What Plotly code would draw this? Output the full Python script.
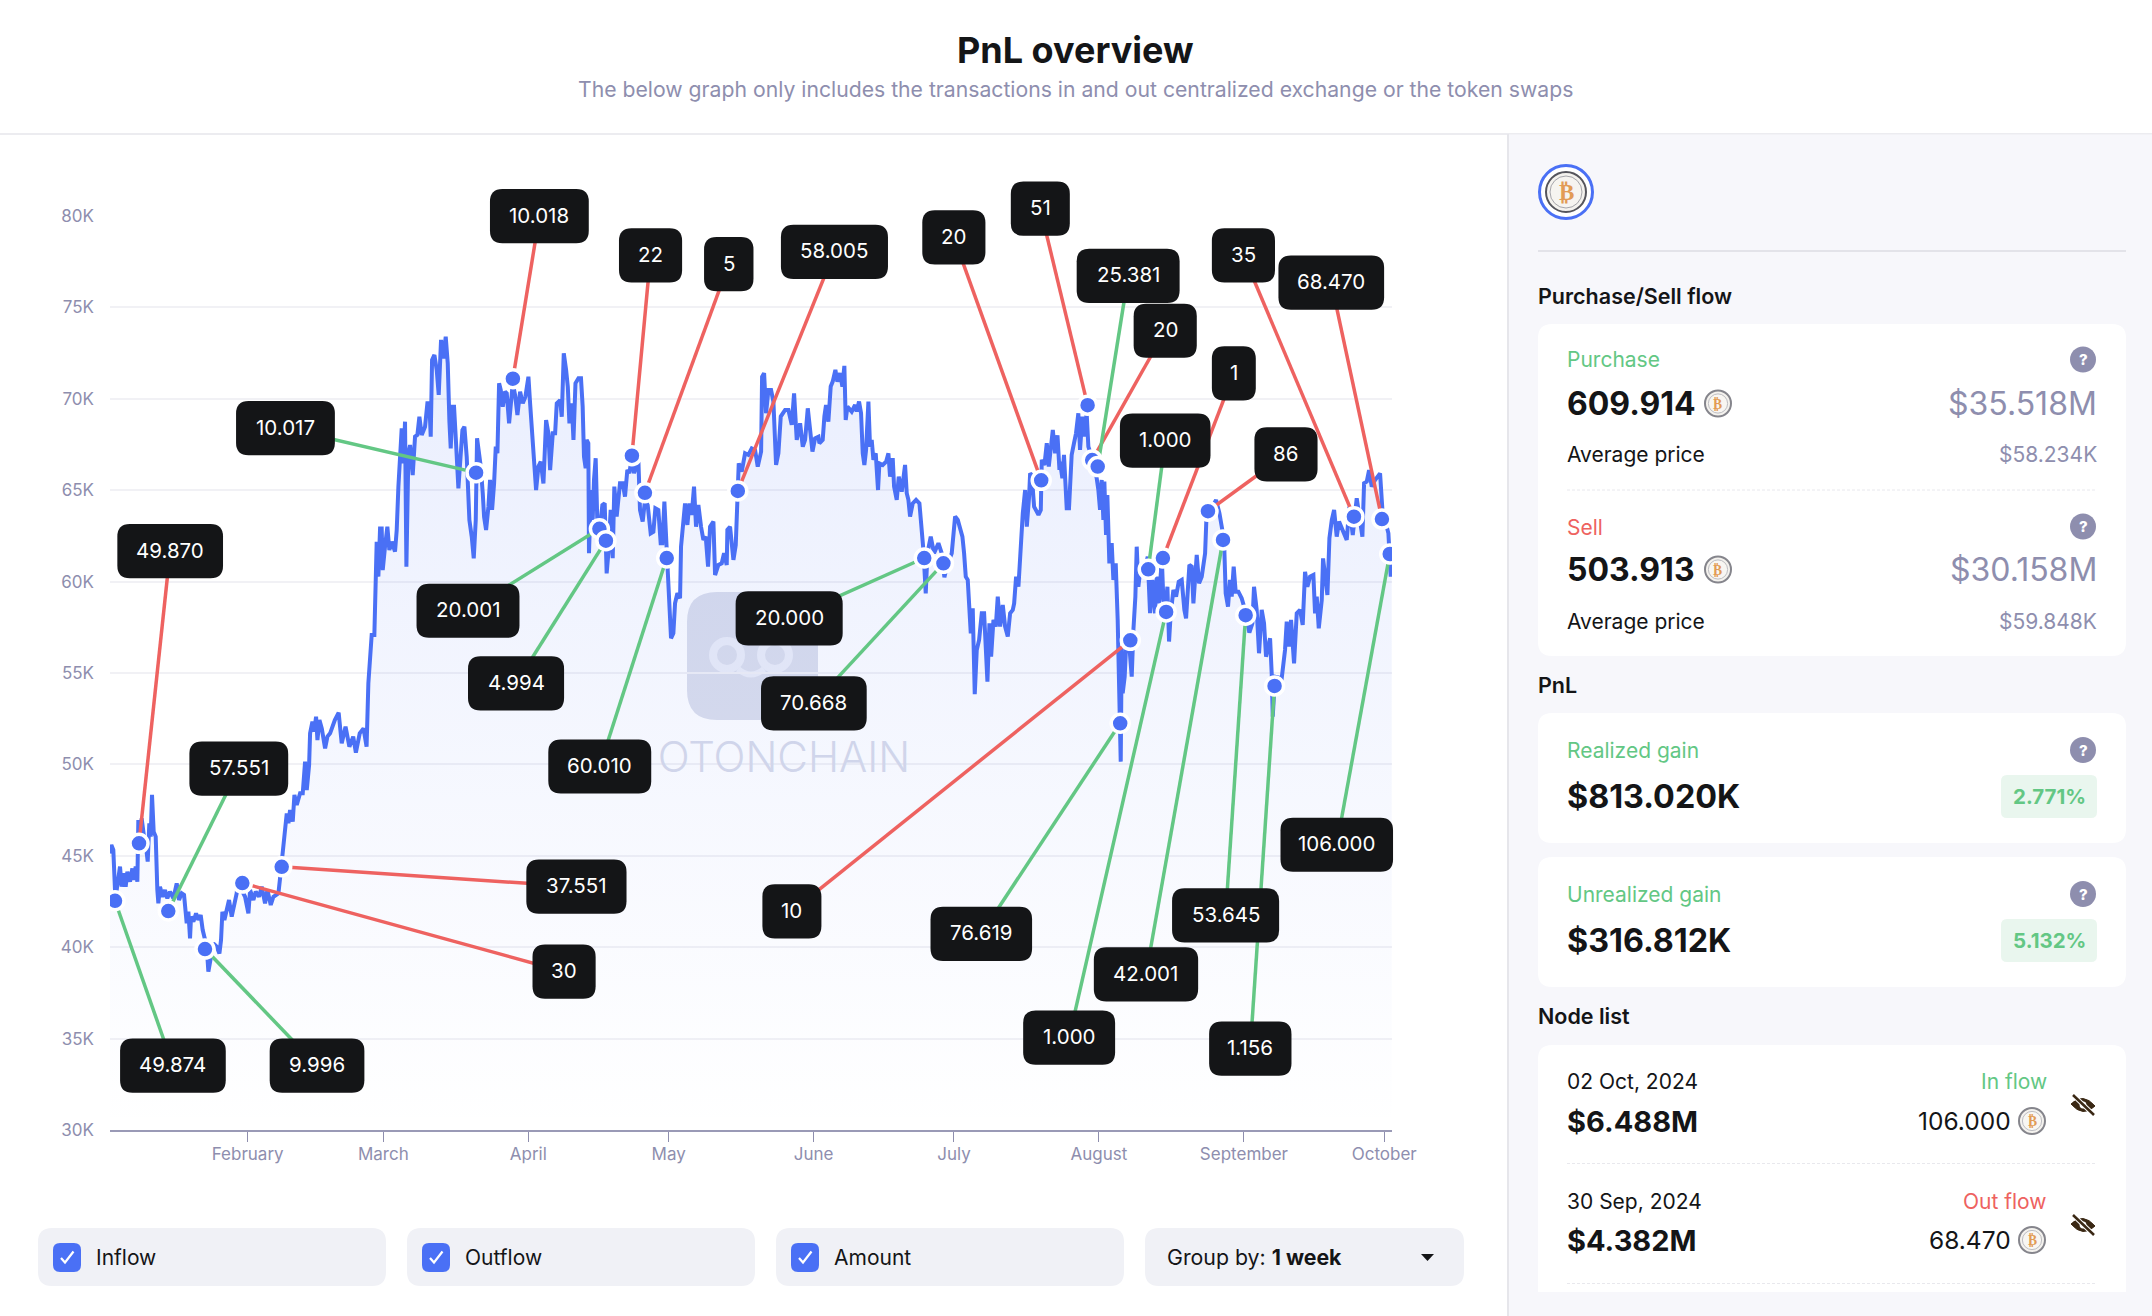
import pandas as pd
import plotly.graph_objects as go

# ---------- data ----------
PRICE_DAYS = [
 1.56,1.85,2.27,2.63,2.99,3.70,4.06,4.41,4.91,5.27,5.84,6.34,6.69,7.05,7.41,7.62,7.98,8.33,8.83,9.26,
 9.62,9.97,10.26,10.54,10.90,11.33,11.68,11.90,12.25,12.83,13.32,13.82,14.39,15.11,15.82,16.32,16.89,17.39,17.96,18.32,
 18.67,18.89,19.39,19.96,20.45,20.95,21.38,21.88,22.24,22.59,23.09,23.66,24.38,24.95,25.30,25.59,26.02,26.52,27.01,27.58,
 28.08,28.65,29.01,29.72,30.44,31.15,31.51,32.22,32.72,33.43,34.00,34.71,35.21,35.93,36.50,37.57,37.92,38.28,38.64,38.99,
 39.35,39.71,40.06,40.63,40.99,41.49,42.20,42.77,43.27,43.63,44.13,44.34,44.84,45.20,45.62,45.91,46.34,46.84,47.55,48.05,
 48.62,49.63,50.45,51.10,51.92,52.74,53.56,54.13,54.95,55.77,56.42,56.80,57.16,57.51,58.08,58.37,58.58,58.94,59.30,59.65,
 59.87,60.36,60.86,61.29,61.79,62.50,62.86,63.22,63.72,63.93,64.29,64.64,64.93,65.36,65.71,66.28,66.78,67.28,67.71,68.21,
 68.92,69.42,69.85,70.13,70.42,70.92,71.42,71.84,72.34,72.84,73.34,73.77,74.13,74.41,74.77,75.12,75.55,76.05,76.41,76.91,
 77.33,77.83,78.40,78.90,79.33,79.76,80.04,80.47,80.83,81.26,81.54,81.97,82.47,82.82,83.25,83.68,84.04,84.39,84.75,85.11,
 85.53,86.03,86.39,86.89,87.67,88.17,88.67,89.24,89.81,90.38,91.02,91.38,91.74,92.24,92.66,93.16,93.66,94.23,94.80,95.30,
 95.66,96.23,96.73,97.08,97.80,98.15,98.58,99.08,99.44,99.79,100.29,100.65,101.08,101.72,102.26,102.62,102.90,103.26,103.47,103.83,
 103.97,104.40,104.76,105.04,105.40,105.76,106.33,106.83,107.33,107.75,108.11,108.61,109.04,109.39,109.89,110.60,111.18,111.67,112.17,112.60,
 113.10,113.60,114.53,114.88,115.45,115.95,116.52,117.16,117.74,118.16,118.80,119.30,119.66,120.09,120.59,120.94,121.51,122.01,122.37,122.87,
 123.44,123.65,124.15,124.51,125.01,125.43,125.93,126.43,126.86,127.36,127.93,128.43,128.93,129.43,129.86,130.57,130.93,131.64,132.35,132.85,
 133.42,133.56,134.13,134.85,135.35,135.70,135.99,136.63,137.34,138.05,138.77,139.48,140.05,140.77,140.98,141.41,141.83,142.33,142.90,143.40,
 143.97,144.47,144.97,145.90,146.61,147.32,147.82,148.39,149.11,149.68,150.18,150.75,151.25,151.75,152.31,153.03,153.23,153.94,154.30,154.65,
 155.15,155.65,156.08,156.65,157.08,157.65,158.15,158.57,158.86,159.22,160.14,160.86,161.21,161.71,162.14,162.50,162.85,163.21,163.71,164.06,
 164.42,164.78,165.28,165.77,166.06,166.77,167.49,167.99,168.34,168.91,169.20,169.77,170.20,170.84,171.55,171.91,172.26,172.62,173.19,173.90,
 174.62,175.11,175.47,175.97,176.33,177.04,177.75,178.68,179.39,179.96,180.46,181.53,182.25,182.82,183.32,183.81,184.17,184.53,184.95,185.31,
 185.60,186.02,186.45,186.88,187.38,187.95,188.45,189.16,189.59,189.95,190.45,190.95,191.37,191.87,192.44,192.94,193.51,194.01,194.58,194.87,
 195.29,195.79,196.29,196.72,197.22,197.58,198.07,198.29,198.64,199.14,200.07,200.57,200.78,201.35,201.85,202.28,203.14,203.64,204.14,204.56,
 204.68,205.18,205.53,205.89,206.11,206.60,206.82,207.17,207.67,208.10,208.60,208.96,209.46,209.88,210.38,210.74,212.17,212.88,213.24,213.59,
 213.95,214.16,214.52,214.80,215.23,215.73,216.09,216.59,217.01,217.30,217.66,217.87,218.08,218.51,218.80,219.51,220.01,220.37,220.79,221.08,
 221.43,221.93,222.86,223.43,223.93,224.43,224.99,225.36,225.86,226.43,226.78,227.21,227.64,227.99,228.35,228.92,229.49,230.06,230.70,231.27,
 231.63,232.34,232.84,233.20,233.91,234.41,234.98,235.70,236.05,236.62,238.05,238.76,239.26,239.62,239.75,240.10,240.60,241.03,241.39,241.81,
 242.24,242.81,243.52,244.24,245.16,245.81,246.16,246.73,247.23,247.80,248.30,248.73,249.59,249.94,250.16,250.65,252.08,252.79,253.15,253.65,
 254.08,254.72,255.29,256.00,256.57,257.07,257.57,258.14,258.85,259.21,259.57,260.00,260.64,260.92,261.85,262.28,262.78,263.28,263.84,264.34,
 264.91,265.98,266.55,267.27,268.12,268.69,269.33,269.69,270.26,270.76,271.33,272.04,273.11,273.61,274.18,274.89,275.39,275.60,
]
PRICE_K = [
 45.13,45.59,45.32,43.13,43.13,44.41,43.31,44.04,43.31,44.13,43.58,44.31,43.68,44.41,43.58,46.96,46.05,47.05,46.05,45.50,
 44.68,46.78,46.05,48.33,46.32,46.05,43.13,42.40,43.31,42.76,43.13,42.67,43.04,42.67,43.49,42.58,42.95,42.86,41.31,41.94,
 40.48,41.67,41.40,41.85,41.49,41.76,40.94,40.48,40.03,38.66,39.39,40.21,40.03,39.66,40.39,41.94,41.49,42.03,42.58,41.67,
 42.40,42.95,43.95,43.13,42.76,41.85,43.13,42.58,43.04,42.76,43.31,42.40,43.13,42.31,42.76,42.95,43.77,44.77,45.50,46.23,
 47.32,46.78,47.50,46.87,48.33,47.78,48.42,48.42,50.15,48.60,49.97,51.70,52.34,51.79,52.61,51.33,52.43,51.97,50.88,51.52,
 51.70,52.43,52.83,51.15,52.06,50.97,51.52,50.64,51.70,51.97,50.97,54.43,56.26,57.08,57.08,59.36,62.18,60.27,62.91,62.91,
 60.63,61.91,63.00,61.73,62.18,61.64,62.82,65.19,67.02,68.38,66.47,68.75,60.82,67.02,67.47,65.83,67.93,68.02,69.02,68.02,
 68.47,69.75,69.75,67.93,72.12,72.40,71.57,70.21,73.22,72.21,73.40,71.94,68.75,67.29,69.57,69.57,67.56,65.10,66.47,68.29,
 68.47,66.83,63.37,62.46,61.27,63.37,67.84,67.02,66.29,64.83,63.55,62.82,64.10,65.56,63.92,65.37,67.38,67.02,70.85,70.48,
 69.57,70.39,70.30,68.66,70.85,70.21,69.11,70.39,69.75,70.12,71.21,69.75,68.47,67.02,65.01,66.29,66.56,65.37,68.84,68.11,
 66.10,68.11,68.11,69.75,69.93,69.02,72.49,71.57,70.66,68.66,69.75,67.75,70.85,71.12,71.12,69.57,66.84,66.20,67.75,67.57,
 61.55,65.01,63.37,65.56,66.75,63.19,63.00,64.19,64.28,60.45,61.55,63.92,61.28,65.20,63.56,65.38,65.38,64.65,66.11,65.93,
 66.75,65.93,66.66,63.92,63.28,64.47,64.19,62.64,62.73,64.01,63.92,62.10,62.10,64.38,61.91,59.63,56.90,57.17,58.81,59.36,
 59.09,61.91,63.19,64.28,63.10,64.28,63.65,65.20,63.00,64.19,63.00,62.28,62.46,60.82,63.00,63.28,60.36,60.91,61.00,61.55,
 60.91,62.83,63.00,61.19,62.00,64.83,66.47,66.02,67.02,66.93,67.29,67.20,66.29,67.11,71.21,71.40,69.21,70.48,70.48,69.85,
 66.38,67.02,69.03,69.39,69.39,68.57,70.30,67.75,68.66,67.38,67.75,69.48,68.11,67.11,67.84,67.93,67.57,67.75,69.03,69.66,
 68.75,70.67,70.94,71.58,70.94,71.40,70.67,71.80,68.84,69.57,69.30,69.66,69.30,69.85,69.21,67.02,66.38,67.20,69.85,67.38,
 67.75,66.66,67.02,65.01,66.47,66.38,66.56,67.02,65.74,66.75,65.20,64.47,65.74,64.92,66.38,64.83,64.47,63.56,64.28,64.47,
 64.28,63.01,61.73,59.36,61.55,62.46,61.55,62.10,61.55,60.24,60.82,61.55,63.56,63.37,62.83,62.46,61.55,60.27,60.09,58.63,
 57.17,58.54,53.84,56.26,56.81,58.27,58.27,54.53,57.72,55.90,57.90,57.54,59.18,57.54,58.72,57.54,57.00,58.27,58.45,58.81,
 60.27,59.73,62.46,63.74,65.01,63.01,64.65,65.92,65.83,64.10,63.65,63.92,66.66,66.38,67.57,66.29,68.30,67.02,68.00,66.11,
 66.56,65.65,66.93,65.56,64.01,64.01,65.74,66.93,67.57,68.11,69.21,67.20,69.02,67.93,69.21,67.38,66.29,65.01,63.92,65.56,
 63.37,65.47,62.55,64.74,61.00,62.10,60.09,61.00,57.90,52.98,50.15,56.44,53.89,54.80,56.44,56.44,54.80,57.35,59.18,61.91,
 59.72,60.82,60.64,61.37,58.27,60.09,58.27,60.27,58.81,61.37,58.99,58.45,59.72,56.72,58.27,59.54,59.18,59.99,60.09,58.45,
 57.99,60.91,60.82,58.81,61.46,59.91,60.27,61.55,63.92,63.83,64.47,63.74,63.00,62.28,62.28,59.36,58.63,60.09,59.18,60.82,
 59.45,59.45,59.09,58.45,57.21,57.72,59.72,58.45,56.08,58.45,57.72,55.89,56.90,54.98,52.61,54.80,54.71,56.26,57.81,56.44,
 57.90,55.53,58.26,58.45,57.63,60.54,59.72,60.27,60.36,58.26,59.18,57.44,58.99,61.27,59.27,62.37,63.37,63.92,62.46,63.28,
 62.91,62.28,64.10,62.55,64.56,63.37,62.46,65.38,65.47,66.10,65.19,65.56,65.92,63.92,63.37,62.64,60.27,61.00,
]

NODE_LABELS = ["49.874","49.870","57.551","9.996","30","37.551","10.017","10.018","20.001","4.994","22","5",
               "60.010","58.005","20.000","70.668","20","51","20","25.381","76.619","10","1.000","1","1.000",
               "86","42.001","53.645","1.156","35","68.470","106.000"]
NODE_FLOW = ["in","out","in","in","out","out","in","out","in","in","out","out",
             "in","out","in","in","out","out","out","in","in","out","in","out","in",
             "out","in","in","in","out","out","in"]
NODE_DAYS = [2.63,7.76,14.02,21.87,29.85,38.27,79.83,87.70,106.20,107.59,113.15,115.93,
             120.59,135.79,175.65,179.75,200.66,210.58,211.56,212.74,217.55,219.71,223.54,226.68,227.37,
             236.31,239.53,244.37,250.55,267.52,273.51,275.18]
NODE_PRICE_K = [42.54,45.68,41.98,39.90,43.51,44.40,65.96,71.10,62.89,62.24,66.89,64.86,
                61.29,64.96,61.29,61.00,65.54,69.65,66.65,66.29,52.25,56.79,60.67,61.29,58.34,
                63.85,62.28,58.16,54.29,63.55,63.42,61.51]

Y_TICKS = [30000,35000,40000,45000,50000,55000,60000,65000,70000,75000,80000]
Y_TEXT = ["30K","35K","40K","45K","50K","55K","60K","65K","70K","75K","80K"]
MONTH_TICKS = ["2024-02-01","2024-03-01","2024-04-01","2024-05-01","2024-06-01","2024-07-01","2024-08-01","2024-09-01","2024-10-01"]
MONTH_TEXT = ["February","March","April","May","June","July","August","September","October"]

# ---------- layout only ----------
W, H = 2152, 1316
PL, PR, PT, PB = 110, 1392, 216, 1130     # plot area in page pixels
DAY_LEFT, DAY_RIGHT = 1.56, 275.66
S = 2152 / 1568
BOX_CX = [126,124,174,231,411,420,208,393,341,376,474,531,437,608,575,593,695,758,849,822,715,577,849,899,779,937,835,893,911,906,970,974]
BOX_CY = [776.5,401.5,560,776.5,708,646,312,157.5,445,498,186,192.5,558.5,183.5,450.5,512.5,173,152,241,201,680.5,664,321,272,756,331,710,667,764,186,206,615.5]
BOX_W  = [77,77,72,69,46,73,72,72,75,70,46,36,75,78,78,77,46,43,46,75,74,43,66,32,67,46,76,78,60,46,77,82]
BOX_H = 39.5

BLUE, RED, GREEN = "#4a70f5", "#ee6260", "#63c784"
INK, GREY = "#141517", "#8e8eae"
FONT = "Inter"

def px(x): return (x - PL) / (PR - PL)
def py(y): return (PB - y) / (PB - PT)
def day_of(x): return DAY_LEFT + (x - PL) / (PR - PL) * (DAY_RIGHT - DAY_LEFT)
def price_of(y): return 30000 + (PB - y) / (PB - PT) * 50000
def to_date(days): return pd.Timestamp("2024-01-01") + pd.to_timedelta(days, unit="D")

shapes, notes = [], []

def rrect(x0, y0, x1, y1, r, fill, layer="above", line=None):
    p = (f"M {px(x0+r)} {py(y0)} L {px(x1-r)} {py(y0)} Q {px(x1)} {py(y0)} {px(x1)} {py(y0+r)} "
         f"L {px(x1)} {py(y1-r)} Q {px(x1)} {py(y1)} {px(x1-r)} {py(y1)} "
         f"L {px(x0+r)} {py(y1)} Q {px(x0)} {py(y1)} {px(x0)} {py(y1-r)} "
         f"L {px(x0)} {py(y0+r)} Q {px(x0)} {py(y0)} {px(x0+r)} {py(y0)} Z")
    shapes.append(dict(type="path", xref="paper", yref="paper", path=p, fillcolor=fill,
                       line=dict(width=0) if line is None else line, layer=layer))

def rect(x0, y0, x1, y1, fill, layer="below"):
    shapes.append(dict(type="rect", xref="paper", yref="paper", x0=px(x0), x1=px(x1), y0=py(y0), y1=py(y1),
                       fillcolor=fill, line=dict(width=0), layer=layer))

def circle(cx, cy, r, fill, layer="above", lc=None, lw=0):
    shapes.append(dict(type="circle", xref="paper", yref="paper", x0=px(cx-r), x1=px(cx+r), y0=py(cy-r), y1=py(cy+r),
                       fillcolor=fill, line=dict(width=lw, color=lc or fill), layer=layer))

def seg(x0, y0, x1, y1, color, width=1, dash=None, layer="above"):
    shapes.append(dict(type="line", xref="paper", yref="paper", x0=px(x0), x1=px(x1), y0=py(y0), y1=py(y1),
                       line=dict(color=color, width=width, dash=dash or "solid"), layer=layer))

def path(d, fill=None, color=None, width=0, layer="above"):
    parts = []
    for cmd in d:
        if cmd[0] == "Z":
            parts.append("Z")
        else:
            parts.append(f"{cmd[0]} " + " ".join(f"{px(cmd[i])} {py(cmd[i+1])}" for i in range(1, len(cmd), 2)))
    shapes.append(dict(type="path", xref="paper", yref="paper", path=" ".join(parts),
                       fillcolor=fill or "rgba(0,0,0,0)", line=dict(color=color or "rgba(0,0,0,0)", width=width), layer=layer))

def txt(x, y, s, size, color=INK, weight=400, anchor="left", family=FONT):
    notes.append(dict(xref="paper", yref="paper", x=px(x), y=py(y), text=s, showarrow=False, xanchor=anchor,
                      yanchor="middle", borderpad=0, borderwidth=0,
                      font=dict(family=family, size=size, color=color, weight=weight)))

def coin(cx, cy, r=13):
    circle(cx, cy, r, "#f4f2ee", lc="#85858c", lw=2)
    circle(cx, cy, r * 0.74, "#f8f6f2", lc="#bdbdc2", lw=1)
    txt(cx, cy, "₿", r * 1.05, "#e29b55", 700, "center", "DejaVu Sans")

def qmark(cx, cy):
    circle(cx, cy, 13, GREY)
    txt(cx, cy, "?", 15, "#ffffff", 800, "center")

def eye_off(cx, cy):
    dark = "#3a2814"
    path([("M", cx-12, cy-1), ("Q", cx, cy-13, cx+12, cy+1), ("Q", cx, cy+13, cx-12, cy-1), ("Z",)], fill=dark, color=dark, width=1)
    circle(cx, cy, 3.4, "#ffffff")
    seg(cx-10, cy-10, cx+11, cy+10, "#ffffff", 4.5)
    seg(cx-10, cy-10, cx+11, cy+10, dark, 2.5)

def check(x0, y0, x1, y1):
    rrect(x0, y0, x1, y1, 7, BLUE)
    mx, my = (x0+x1)/2, (y0+y1)/2
    path([("M", mx-6, my+0.5), ("L", mx-2, my+5), ("L", mx+6.5, my-6)], color="#ffffff", width=2.2)

# page frame
seg(0, 134, W, 134, "#e6e6eb", 1.5, layer="below")
rect(1509, 134.5, W, H, "#f7f7fb")
seg(1508, 134, 1508, H, "#e6e6eb", 2, layer="below")
txt(1075.5, 50, "PnL overview", 36, INK, 700, "center")
txt(1075.5, 89, "The below graph only includes the transactions in and out centralized exchange or the token swaps", 21.2, GREY, 400, "center")

# watermark logo
rrect(687, 592, 818, 720, 30, "#dcdfec", layer="below")
for ex in (727, 775):
    circle(ex, 655, 14, "#dcdfec", layer="below", lc="#eceef7", lw=8)
path([("M", 738, 669), ("Q", 751, 680, 764, 669)], color="#eceef7", width=6, layer="below")

# node labels
for cx, cy, w in zip(BOX_CX, BOX_CY, BOX_W):
    rrect((cx-w/2)*S, (cy-BOX_H/2)*S, (cx+w/2)*S, (cy+BOX_H/2)*S, 12.5, INK)
for cx, cy, s in zip(BOX_CX, BOX_CY, NODE_LABELS):
    txt(cx*S, (cy-0.7)*S, s, 20.5, "#ffffff", 400, "center")

# side panel
circle(1566, 192, 26.5, "#ffffff", lc=BLUE, lw=3)
circle(1566, 192, 20, "#f4f2ee", lc="#55555c", lw=2)
circle(1566, 192, 16, "#f6f4f0", lc="#a5a5aa", lw=1)
txt(1566, 192, "₿", 23, "#e29b55", 700, "center", "DejaVu Sans")
seg(1538, 251, 2126, 251, "#e3e3e9", 2)

txt(1538, 296, "Purchase/Sell flow", 21.5, INK, 600)
rrect(1538, 324, 2126, 656, 14, "#ffffff")
txt(1567, 360, "Purchase", 21, GREEN)
qmark(2083, 359.5)
txt(1567, 403, "609.914", 32, INK, 700)
coin(1718, 403.5)
txt(2097, 403, "$35.518M", 32, GREY, 400, "right")
txt(1567, 454, "Average price", 21, INK)
txt(2097, 454, "$58.234K", 21, GREY, 400, "right")
seg(1567, 490, 2097, 490, "#e8e8ed", 1, "3px,2px")
txt(1567, 527, "Sell", 21, RED)
qmark(2083, 526.5)
txt(1567, 569, "503.913", 32, INK, 700)
coin(1718, 569.5)
txt(2097, 569, "$30.158M", 32, GREY, 400, "right")
txt(1567, 621, "Average price", 21, INK)
txt(2097, 621, "$59.848K", 21, GREY, 400, "right")

txt(1538, 685, "PnL", 21.5, INK, 600)
rrect(1538, 713, 2126, 843, 14, "#ffffff")
txt(1567, 750, "Realized gain", 21, GREEN)
qmark(2083, 750)
txt(1567, 796, "$813.020K", 32.3, INK, 700)
rrect(2001, 775, 2097, 818, 6, "#e9f6ee")
txt(2049, 796.5, "2.771%", 20.5, GREEN, 700, "center")
rrect(1538, 857, 2126, 987, 14, "#ffffff")
txt(1567, 894, "Unrealized gain", 21, GREEN)
qmark(2083, 894)
txt(1567, 940, "$316.812K", 32.3, INK, 700)
rrect(2001, 919, 2097, 962, 6, "#e9f6ee")
txt(2049, 940.5, "5.132%", 20.5, GREEN, 700, "center")

txt(1538, 1016, "Node list", 21.5, INK, 600)
rrect(1538, 1045, 2126, 1320, 14, "#ffffff", layer="below")
rect(1538, 1292, 2126, 1320, "#f7f7fb", layer="above")
txt(1567, 1081, "02 Oct, 2024", 21, INK)
txt(2047, 1081, "In flow", 21, GREEN, 400, "right")
txt(1567, 1121, "$6.488M", 29, INK, 700)
txt(2011, 1121, "106.000", 24.5, INK, 400, "right")
coin(2032, 1121)
eye_off(2083, 1105)
seg(1567, 1163.5, 2097, 1163.5, "#e8e8ed", 1, "3px,2px")
txt(1567, 1201, "30 Sep, 2024", 21, INK)
txt(2047, 1201, "Out flow", 21, RED, 400, "right")
txt(1567, 1240, "$4.382M", 29, INK, 700)
txt(2011, 1240, "68.470", 24.5, INK, 400, "right")
coin(2032, 1240)
eye_off(2083, 1225)
seg(1567, 1283.5, 2097, 1283.5, "#e8e8ed", 1, "3px,2px")

# bottom controls
for x0, x1 in ((38, 386), (407, 755), (776, 1124), (1145, 1464)):
    rrect(x0, 1228, x1, 1286, 14, "#f0f1f6")
for x0, s in ((53, "Inflow"), (422, "Outflow"), (791, "Amount")):
    check(x0, 1243, x0 + 28, 1272)
    txt(x0 + 43, 1257, s, 21, INK)
txt(1167, 1257, "Group by: <b>1 week</b>", 21.3, INK)
path([("M", 1421, 1254), ("L", 1434, 1254), ("L", 1427.5, 1261), ("Z",)], fill=INK)

# ---------- traces ----------
fig = go.Figure()
fig.add_trace(go.Scatter(x=[to_date(day_of(784))], y=[price_of(761.5)], mode="text", text=["OTONCHAIN"],
                         textfont=dict(family=FONT, size=42, color="#d8dbea", weight=300), textposition="middle center",
                         hoverinfo="skip", showlegend=False))
fig.add_trace(go.Scatter(x=[to_date(d) for d in PRICE_DAYS], y=[v * 1000 for v in PRICE_K], mode="lines",
                         line=dict(color=BLUE, width=4), fill="tozeroy",
                         fillgradient=dict(type="vertical", start=30000, stop=72000,
                                           colorscale=[[0, "rgba(74,112,245,0)"], [1, "rgba(74,112,245,0.115)"]]),
                         showlegend=False, name="Amount"))
for d, v, cx, cy, flow in zip(NODE_DAYS, NODE_PRICE_K, BOX_CX, BOX_CY, NODE_FLOW):
    fig.add_trace(go.Scatter(x=[to_date(d), to_date(day_of(cx * S))], y=[v * 1000, price_of(cy * S)], mode="lines",
                             line=dict(color=GREEN if flow == "in" else RED, width=3.5), cliponaxis=False,
                             hoverinfo="skip", showlegend=False))
fig.add_trace(go.Scatter(x=[to_date(d) for d in NODE_DAYS], y=[v * 1000 for v in NODE_PRICE_K], mode="markers",
                         marker=dict(size=18, color=BLUE, line=dict(color="#ffffff", width=3.5)),
                         text=NODE_LABELS, showlegend=False, name="Nodes"))

axis_font = dict(family=FONT, size=17, color=GREY)
fig.update_layout(
    width=W, height=H, autosize=False,
    margin=dict(l=PL, r=W - PR, t=PT, b=H - PB, pad=0),
    paper_bgcolor="#ffffff", plot_bgcolor="rgba(0,0,0,0)",
    font=dict(family=FONT), showlegend=False,
    shapes=shapes, annotations=notes,
    xaxis=dict(type="date", range=[to_date(DAY_LEFT), to_date(DAY_RIGHT)], tickmode="array",
               tickvals=MONTH_TICKS, ticktext=MONTH_TEXT, ticks="outside", ticklen=10, tickwidth=1, tickcolor=GREY,
               tickfont=axis_font, ticklabelstandoff=-2, showgrid=False, showline=True, linecolor="#9a9ab6", linewidth=2, zeroline=False),
    yaxis=dict(range=[30000, 80000], tickmode="array", tickvals=Y_TICKS, ticktext=Y_TEXT, ticks="", ticklabelstandoff=15,
               tickfont=axis_font, showgrid=True, gridcolor="#f1f1f5", gridwidth=2, zeroline=False, showline=False),
)
fig.write_html("out.html", config=dict(displayModeBar=False), post_script="document.body.style.margin='0';")
